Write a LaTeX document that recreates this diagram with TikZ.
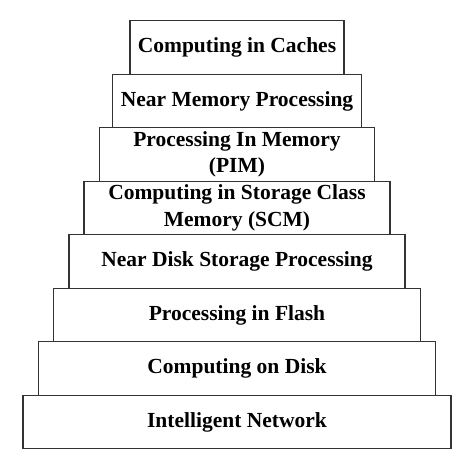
\documentclass[tikz,border=0pt]{standalone}
\usepackage{fontspec}
\setmainfont{Liberation Serif}
\usetikzlibrary{positioning}

\tikzset{
	layer/.style={draw=black!80, line width=1.2pt, minimum height=53.5pt, inner sep=0pt, outer sep=0pt,
		align=center, font=\fontsize{21.5}{26.5}\selectfont\bfseries},
}

\begin{document}
\begin{tikzpicture}[x=1pt,y=1pt]
	\useasboundingbox (0,0) rectangle (474,474);
	\node[layer, minimum width=428pt] (net) at (237,52) {Intelligent Network};
	\node[layer, minimum width=397pt, above=0pt of net] (disk) {Computing on Disk};
	\node[layer, minimum width=367pt, above=0pt of disk] (flash) {Processing in Flash};
	\node[layer, minimum width=336pt, above=0pt of flash] (nds) {Near Disk Storage Processing};
	\node[layer, minimum width=306pt, above=0pt of nds] (scm) {Computing in Storage Class\\Memory (SCM)};
	\node[layer, minimum width=275pt, above=0pt of scm] (pim) {Processing In Memory\\(PIM)};
	\node[layer, minimum width=249pt, above=0pt of pim] (nmp) {Near Memory Processing};
	\node[layer, minimum width=214pt, above=0pt of nmp] (cache) {Computing in Caches};
\end{tikzpicture}
\end{document}
